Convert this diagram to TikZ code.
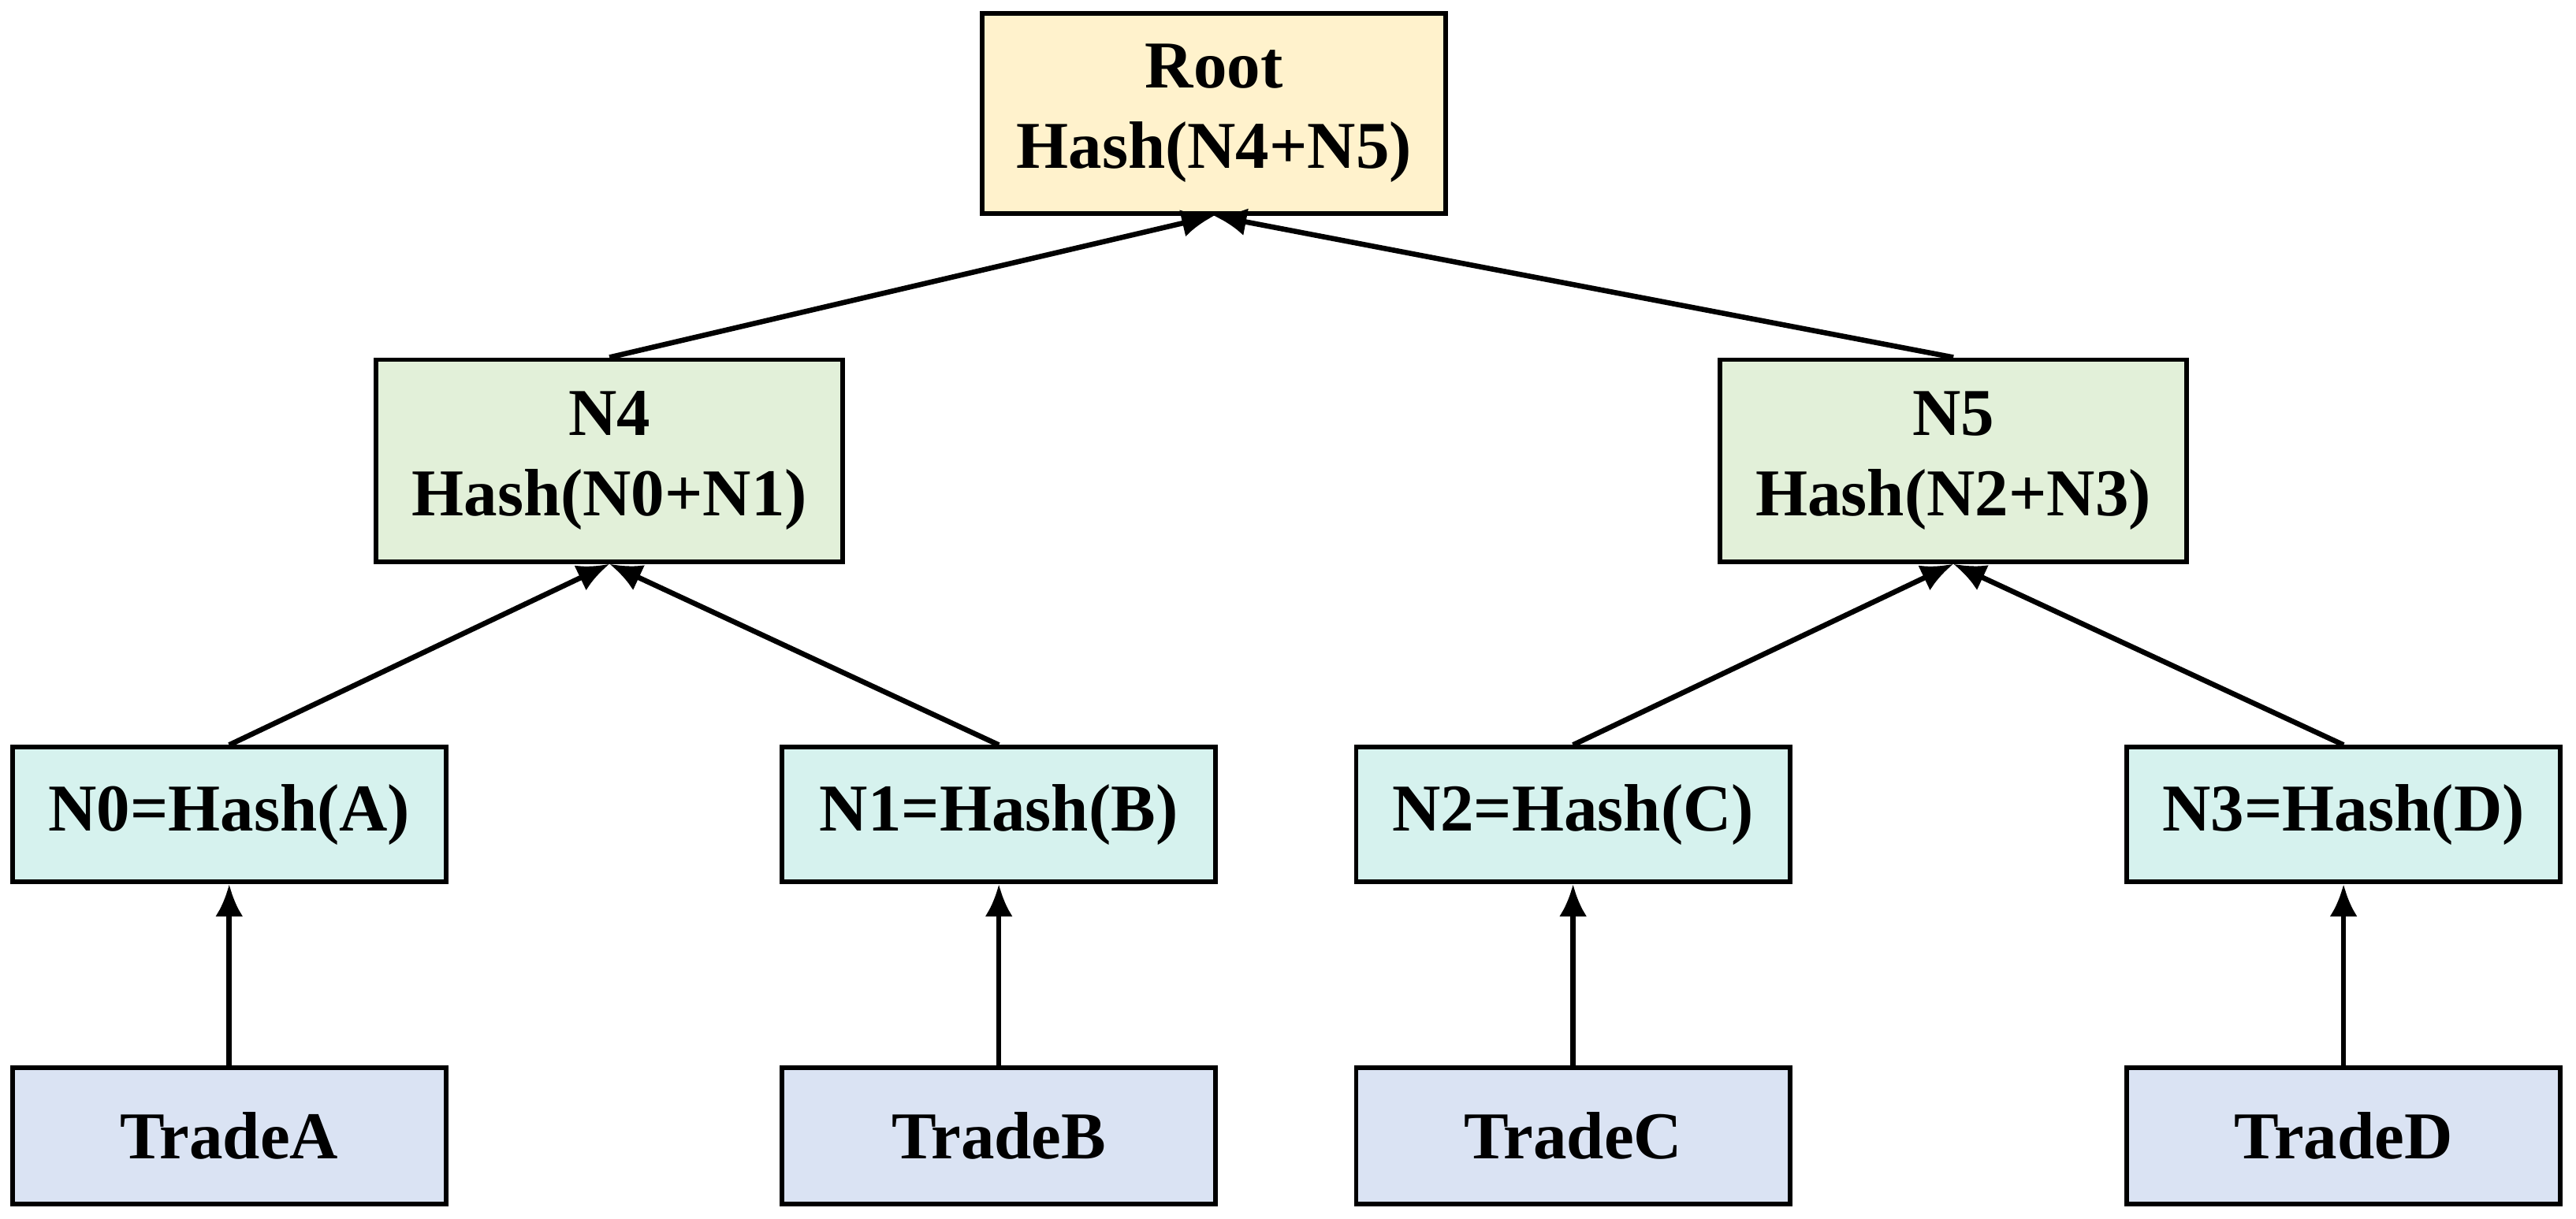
\documentclass[tikz,border=0pt]{standalone}
\usepackage{fontspec}
\setmainfont{Liberation Serif}
\usetikzlibrary{arrows.meta}
\definecolor{cRoot}{HTML}{FFF2CC}
\definecolor{cMid}{HTML}{E2F0D9}
\definecolor{cHash}{HTML}{D6F2EE}
\definecolor{cTrade}{HTML}{DAE3F3}
\begin{document}
\begin{tikzpicture}[x=0.05cm,y=-0.05cm,
  box/.style={draw=black,line width=4pt,align=center,inner sep=0pt,font=\fontsize{58}{70}\selectfont\bfseries},
  arr/.style={line width=4.5pt,-{Latex[length=28pt,width=24pt]}}]
\useasboundingbox (0,0) rectangle (1568,742);
\node[box,fill=cRoot,minimum width=282*0.05cm,minimum height=122*0.05cm] (root) at (739,69) {Root\\Hash(N4+N5)};
\node[box,fill=cMid,minimum width=284*0.05cm,minimum height=123*0.05cm] (n4) at (371,280.5) {N4\\Hash(N0+N1)};
\node[box,fill=cMid,minimum width=284*0.05cm,minimum height=123*0.05cm] (n5) at (1189,280.5) {N5\\Hash(N2+N3)};
\foreach \n/\x/\t/\tt in {n0/139.5/N0=Hash(A)/TradeA, n1/608/N1=Hash(B)/TradeB, n2/957.5/N2=Hash(C)/TradeC, n3/1426.5/N3=Hash(D)/TradeD}{
  \node[box,fill=cHash,minimum width=264*0.05cm,minimum height=82*0.05cm] (\n) at (\x,496) {\t};
  \node[box,fill=cTrade,minimum width=264*0.05cm,minimum height=83*0.05cm] (t\n) at (\x,691.5) {\tt};
  \draw[arr] (t\n.north) -- (\n.south);
}
\draw[arr] (n4.north) -- (root.south);
\draw[arr] (n5.north) -- (root.south);
\draw[arr] (n0.north) -- (n4.south);
\draw[arr] (n1.north) -- (n4.south);
\draw[arr] (n2.north) -- (n5.south);
\draw[arr] (n3.north) -- (n5.south);
\end{tikzpicture}
\end{document}
